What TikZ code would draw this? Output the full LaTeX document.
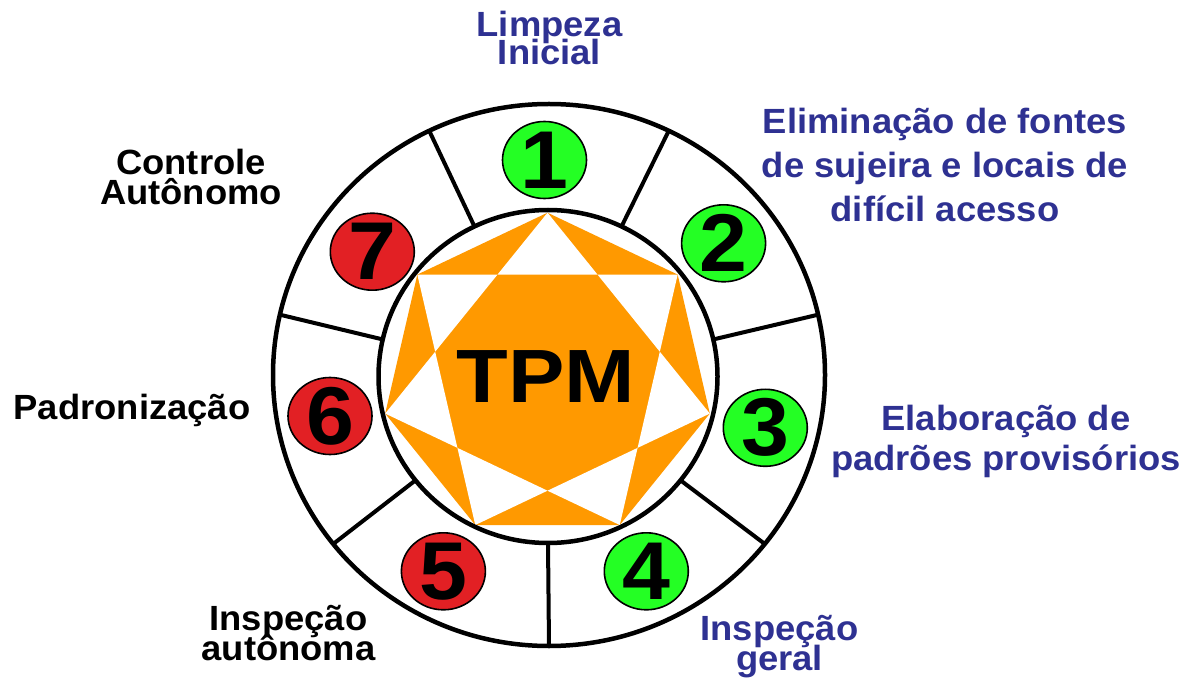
\documentclass[tikz,border=0pt]{standalone}
\usepackage{fontspec}
\setmainfont{Liberation Sans}
\newfontfamily\lblfont[FakeStretch=1.04]{Liberation Sans}
\newfontfamily\tpmfont[FakeStretch=1.12]{Liberation Sans}
\newfontfamily\digfont[FakeStretch=1.05]{Liberation Sans}
\usetikzlibrary{shapes.geometric}
\definecolor{tpmorange}{RGB}{255,153,0}
\definecolor{tpmgreen}{RGB}{36,255,36}
\definecolor{tpmred}{RGB}{226,32,36}
\definecolor{tpmblue}{RGB}{46,49,146}
\newcommand\tightlines{\lineskiplimit=-100pt\relax\lineskip=0pt\relax}
\tikzset{
  ringline/.style={line width=4.5pt, black},
  divline/.style={line width=4pt, black},
  numdisc/.style={ellipse, draw=black, line width=1.6pt, minimum width=84pt, minimum height=77pt, inner sep=0pt},
  greendisc/.style={numdisc, fill=tpmgreen},
  reddisc/.style={numdisc, fill=tpmred},
  numtxt/.style={inner sep=0pt, font=\digfont\bfseries\fontsize{82}{82}\selectfont},
  lbl/.style={align=center, inner sep=0pt, anchor=base, font=\lblfont\bfseries\fontsize{35}{#1}\selectfont\tightlines},
  bluelbl/.style={lbl=#1, text=tpmblue},
  blacklbl/.style={lbl=#1, text=black}
}
\begin{document}
\begin{tikzpicture}[x=1pt,y=-1pt]
\useasboundingbox[fill=white] (0,0) rectangle (1191,692);
% heptagram
\def\hx{547.5}\def\hy{377}\def\hrx{166.5}\def\hry{164.3}
\foreach \k in {0,...,6}{
  \coordinate (V\k) at ({\hx+\hrx*cos(90-\k*360/7)},{\hy-\hry*sin(90-\k*360/7)});
  \coordinate (I\k) at ({\hx+0.69202*\hrx*cos(90-\k*360/7-180/7)},{\hy-0.69202*\hry*sin(90-\k*360/7-180/7)});
}
\fill[tpmorange] (V0)--(V1)--(V2)--(V3)--(V4)--(V5)--(V6)--cycle;
\foreach \k [evaluate=\k as \j using {int(mod(\k+6,7))}] in {0,...,6}
  \fill[white] (V\k)--(I\k)--(I\j)--cycle;
% rings
\draw[ringline] (548,376.5) ellipse [x radius=169.5, y radius=166.5];
\draw[ringline] (549,375) ellipse [x radius=276, y radius=271];
\foreach \k in {0,...,6}{
  \pgfmathsetmacro\a{90+180/7+\k*360/7}
  \draw[divline] ({548+169.5*cos(\a)},{376.5-166.5*sin(\a)}) -- ({549+276*cos(\a)},{375-271*sin(\a)});
}
% TPM
\node[inner sep=0pt, font=\tpmfont\bfseries\fontsize{75.5}{75.5}\selectfont] (tpm) at (545.9,376.3) {TPM};
% number discs
\node[greendisc] (c1) at (544.5,160) {};
\node[greendisc] (c2) at (723.6,243.3) {};
\node[greendisc] (c3) at (765.3,427.8) {};
\node[greendisc] (c4) at (646.3,571.3) {};
\node[reddisc] (c5) at (443.4,571.3) {};
\node[reddisc] (c6) at (330,416) {};
\node[reddisc] (c7) at (372.3,251.7) {};
\foreach \k in {1,...,7}{
  \node[numtxt] (d\k) at (c\k) {\k};
}
% labels (anchor = baseline of the last line)
\node[bluelbl=28.3] (l1) at (549.5,65) {Limpeza\\Inicial};
\node[bluelbl=44] (l2) at (945,221.7) {Eliminação de fontes\\de sujeira e locais de\\difícil acesso};
\node[bluelbl=40] (l3) at (1006,470.7) {Elaboração de\\padrões provisórios};
\node[bluelbl=30] (l4) at (779.5,670.7) {Inspeção\\geral};
\node[blacklbl=30.5] (l5) at (288.5,660.7) {Inspeção\\autônoma};
\node[blacklbl=30] (l6) at (132,419.3) {Padronização};
\node[blacklbl=30] (l7) at (191,205) {Controle\\Autônomo};
\end{tikzpicture}
\end{document}
